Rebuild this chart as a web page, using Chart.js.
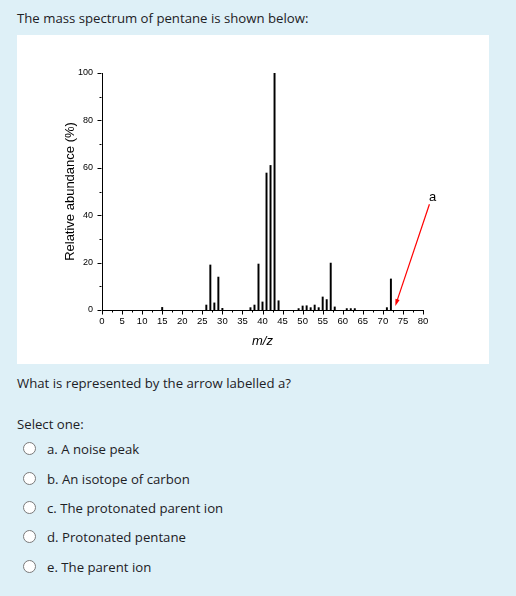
<!DOCTYPE html>
<html><head><meta charset="utf-8">
<script src="https://cdn.jsdelivr.net/npm/chart.js@4/dist/chart.umd.min.js"></script>
<style>
html,body{margin:0;padding:0;}
body{width:516px;height:596px;background:#def0f7;position:relative;overflow:hidden;font-family:"Open Sans",sans-serif;font-size:13.2px;color:#1d2125;}
.t{position:absolute;left:17px;line-height:20px;white-space:nowrap;}
.o{position:absolute;left:47px;line-height:20px;white-space:nowrap;}
.box{position:absolute;left:17px;top:35px;width:472px;height:329px;background:#fff;}
.r{position:absolute;left:23px;width:11px;height:11px;border:1px solid #7a7a7a;border-radius:50%;background:#fff;}
canvas{display:block;}
</style></head>
<body>
<div class="t" style="top:8px">The mass spectrum of pentane is shown below:</div>
<div class="box"><canvas id="c" width="472" height="329"></canvas></div>
<div class="t" style="top:373px">What is represented by the arrow labelled a?</div>
<div class="t" style="top:414px">Select one:</div>
<span class="r" style="top:442px"></span><div class="o" style="top:439px">a. A noise peak</div>
<span class="r" style="top:472px"></span><div class="o" style="top:469px">b. An isotope of carbon</div>
<span class="r" style="top:501px"></span><div class="o" style="top:498px">c. The protonated parent ion</div>
<span class="r" style="top:530px"></span><div class="o" style="top:527px">d. Protonated pentane</div>
<span class="r" style="top:560px"></span><div class="o" style="top:557px">e. The parent ion</div>
<script>
// m/z values and relative abundances (%)
const mz        = [15, 26, 27, 28, 29, 30, 37, 38, 39, 40, 41, 42, 43, 44, 49, 50, 51, 52, 53, 54, 55, 56, 57, 58, 61, 62, 63, 71, 72];
const abundance = [1.1, 2.1, 19.0, 3.0, 13.9, 0.7, 1.0, 2.1, 19.4, 3.4, 57.8, 61.0, 100, 3.9, 0.6, 1.7, 1.8, 1.0, 2.1, 1.0, 5.5, 4.4, 19.8, 1.3, 0.6, 0.6, 0.6, 1.0, 13.1];
const xTickValues = [0, 5, 10, 15, 20, 25, 30, 35, 40, 45, 50, 55, 60, 65, 70, 75, 80];
const yTickValues = [0, 20, 40, 60, 80, 100];
const xTitle = 'm/z';
const yTitle = 'Relative abundance (%)';
const arrowLabel = 'a';
const arrowFrom = [81.6, 44.6];
const arrowTo   = [73.1, 1.7];
const labelAt   = [82.4, 47.4];

const FONT = '"Liberation Sans", Arial, sans-serif';

const overlay = {
  id: 'overlay',
  afterDraw(chart) {
    const {ctx, scales: {x, y}} = chart;
    ctx.save();
    ctx.strokeStyle = '#000';
    ctx.lineWidth = 1;
    ctx.beginPath();
    const yb = Math.round(y.getPixelForValue(0)) + 0.5;
    for (let i = 0; i < xTickValues.length; i++) {
      const v = xTickValues[i];
      let px = Math.round(x.getPixelForValue(v)) + 0.5;
      ctx.moveTo(px, yb); ctx.lineTo(px, yb + 4);
      if (i < xTickValues.length - 1) {
        const m = (v + xTickValues[i + 1]) / 2;
        px = Math.round(x.getPixelForValue(m)) + 0.5;
        ctx.moveTo(px, yb); ctx.lineTo(px, yb + 2);
      }
    }
    const xl = Math.round(x.getPixelForValue(0)) - 0.5;
    for (let i = 0; i < yTickValues.length; i++) {
      const v = yTickValues[i];
      let py = Math.round(y.getPixelForValue(v)) + 0.5;
      ctx.moveTo(xl, py); ctx.lineTo(xl - 4, py);
      if (i < yTickValues.length - 1) {
        const m = (v + yTickValues[i + 1]) / 2;
        py = Math.round(y.getPixelForValue(m)) + 0.5;
        ctx.moveTo(xl, py); ctx.lineTo(xl - 2, py);
      }
    }
    ctx.stroke();
    // arrow
    const x1 = x.getPixelForValue(arrowFrom[0]), y1 = y.getPixelForValue(arrowFrom[1]);
    const x2 = x.getPixelForValue(arrowTo[0]), y2 = y.getPixelForValue(arrowTo[1]);
    const ang = Math.atan2(y2 - y1, x2 - x1);
    const hl = 7, hw = 2.2;
    ctx.strokeStyle = '#ff0000';
    ctx.fillStyle = '#ff0000';
    ctx.lineWidth = 1.2;
    ctx.beginPath();
    ctx.moveTo(x1, y1);
    ctx.lineTo(x2 - Math.cos(ang) * hl * 0.8, y2 - Math.sin(ang) * hl * 0.8);
    ctx.stroke();
    ctx.beginPath();
    ctx.moveTo(x2, y2);
    const bx = x2 - Math.cos(ang) * hl, by = y2 - Math.sin(ang) * hl;
    ctx.lineTo(bx + Math.sin(ang) * hw, by - Math.cos(ang) * hw);
    ctx.lineTo(bx - Math.sin(ang) * hw, by + Math.cos(ang) * hw);
    ctx.closePath();
    ctx.fill();
    // label
    ctx.fillStyle = '#000';
    ctx.font = '13px ' + FONT;
    ctx.textAlign = 'center';
    ctx.textBaseline = 'middle';
    ctx.fillText(arrowLabel, x.getPixelForValue(labelAt[0]), y.getPixelForValue(labelAt[1]));
    ctx.restore();
  }
};

new Chart(document.getElementById('c'), {
  type: 'bar',
  data: {
    datasets: [{
      data: mz.map((m, i) => ({x: m, y: abundance[i]})),
      backgroundColor: '#000',
      borderWidth: 0,
      barThickness: 1.3
    }]
  },
  options: {
    responsive: false,
    animation: false,
    events: [],
    layout: {padding: {left: 0, top: 38, right: 66, bottom: 0}},
    plugins: {legend: {display: false}, tooltip: {enabled: false}},
    scales: {
      x: {
        type: 'linear', min: 0, max: 80, offset: false,
        grid: {display: false, drawTicks: true, tickLength: 4, offset: false},
        border: {display: true, color: '#000', width: 1},
        afterBuildTicks: s => { s.ticks = xTickValues.map(v => ({value: v})); },
        ticks: {autoSkip: false, maxRotation: 0, padding: 2, color: '#000', font: {family: FONT, size: 9.5}},
        title: {display: true, text: xTitle, color: '#000', font: {family: FONT, size: 13, style: 'italic'}, padding: {top: 0, bottom: 14.5}},
        afterFit: s => { s.height = 54; }
      },
      y: {
        type: 'linear', min: 0, max: 100,
        grid: {display: false, drawTicks: true, tickLength: 4},
        border: {display: true, color: '#000', width: 1},
        afterBuildTicks: s => { s.ticks = yTickValues.map(v => ({value: v})); },
        ticks: {padding: 5, color: '#000', font: {family: FONT, size: 9}},
        title: {display: true, text: yTitle, color: '#000', font: {family: FONT, size: 13}, padding: {top: 45.7, bottom: 0}},
        afterFit: s => { s.width = 85; }
      }
    }
  },
  plugins: [overlay]
});
</script>
</body></html>
